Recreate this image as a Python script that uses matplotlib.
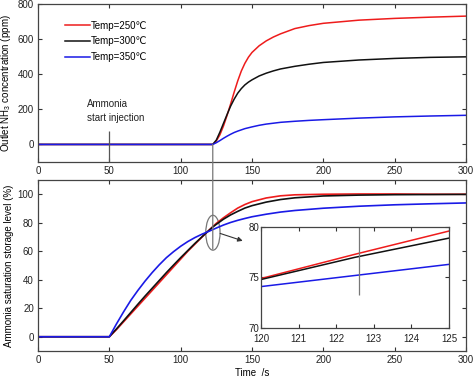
import numpy as np
import matplotlib
matplotlib.use('Agg')
import matplotlib.pyplot as plt
from matplotlib.patches import Ellipse, ConnectionPatch

plt.rcParams['font.family'] = ['Liberation Sans', 'DejaVu Sans']
plt.rcParams['font.size'] = 7
plt.rcParams['mathtext.fontset'] = 'custom'
plt.rcParams['mathtext.rm'] = 'Liberation Sans'

# outlet NH3 concentration (ppm)
t_top = [0, 122.5, 125, 127.5, 130, 132.5, 135, 137.5, 140, 142.5, 145, 147.5,
         150, 155, 160, 165, 170, 180, 190, 200, 225, 250, 275, 300]
nh3_250 = [0, 0, 20, 55, 105, 165, 230, 298, 362, 418, 462, 497,
           524, 562, 590, 612, 630, 660, 677, 690, 708, 718, 725, 731]
nh3_300 = [0, 0, 25, 70, 120, 170, 218, 258, 292, 318, 339, 355,
           368, 390, 406, 419, 430, 445, 457, 467, 481, 490, 496, 499]
nh3_350 = [0, 0, 10, 22, 35, 47, 58, 68, 76, 83, 90, 95,
           100, 109, 116, 121, 126, 132, 137, 141, 150, 157, 162, 166]

# ammonia saturation storage level (%)
t_bot = [0, 50, 55, 60, 65, 70, 75, 80, 85, 90, 95, 100, 105, 110, 115, 120, 122.5,
         125, 130, 135, 140, 145, 150, 160, 170, 180, 200, 225, 250, 275, 300]
sat_250 = [0, 0, 5, 10.5, 16, 21.5, 27, 32.5, 38, 43.5, 49, 54.5, 60, 65, 70, 74.9, 77.3,
           79.6, 83.5, 87, 90.3, 92.8, 94.8, 97.4, 98.9, 99.6, 100, 100.2, 100.2, 100, 100]
sat_300 = [0, 0, 5.5, 11.2, 17, 22.8, 28.5, 34, 39.5, 45, 50.3, 55.5, 60.5, 65.5, 70.2, 74.8, 77.0,
           78.9, 82.5, 85.5, 88, 90.3, 92, 94.5, 96.3, 97.5, 98.8, 99.4, 99.7, 99.8, 99.9]
sat_350 = [0, 0, 9, 17.5, 25.5, 32.5, 39, 45, 50.5, 55.5, 59.7, 63.5, 66.8, 69.6, 72, 74.1, 75.2,
           76.3, 78.4, 80.2, 81.7, 83, 84.2, 86, 87.5, 88.6, 90.2, 91.6, 92.6, 93.3, 93.9]

labels = ['Temp=250\u2103', 'Temp=300\u2103', 'Temp=350\u2103']
colors = ['#ee1c1c', '#111111', '#1a1ae6']

W, H = 474, 379
fig = plt.figure(figsize=(W / 100, H / 100), dpi=100)

def box(l, t, r, b):
    return [l / W, 1 - b / H, (r - l) / W, (b - t) / H]

def style(ax):
    ax.tick_params(direction='in', top=True, right=True, length=3, width=0.8,
                   colors='#333333', labelcolor='#222222', pad=3)
    for s in ax.spines.values():
        s.set_color('#444444')
        s.set_linewidth(0.9)

ax1 = fig.add_axes(box(38, 4, 466, 162))
ax2 = fig.add_axes(box(38, 180, 466, 351))
ax3 = fig.add_axes(box(261, 227, 449, 328))

for ys, c, lab in zip([nh3_250, nh3_300, nh3_350], colors, labels):
    ax1.plot(t_top, ys, color=c, lw=1.1, label=lab)
for ys, c in zip([sat_250, sat_300, sat_350], colors):
    ax2.plot(t_bot, ys, color=c, lw=1.2)
    ax3.plot(t_bot, ys, color=c, lw=1.1)

ax1.set_xlim(0, 300)
ax1.set_ylim(-100, 800)
ax1.set_xticks([0, 50, 100, 150, 200, 250, 300])
ax1.set_yticks([0, 200, 400, 600, 800])
ax1.set_ylabel('Outlet NH$_3$ concentration (ppm)', labelpad=3)
ax1.vlines(50, -100, 74, color='#555555', lw=0.9)
ax1.text(34.5, 189, 'Ammonia\nstart injection', va='center', ha='left',
         linespacing=1.45, color='#222222')
ax1.legend(loc='upper left', bbox_to_anchor=(0.063, 0.895), frameon=False,
           handlelength=2.6, handletextpad=0.1, labelspacing=0.6,
           borderpad=0, borderaxespad=0)

ax2.set_xlim(0, 300)
ax2.set_ylim(-10, 110)
ax2.set_xticks([0, 50, 100, 150, 200, 250, 300])
ax2.set_yticks([0, 20, 40, 60, 80, 100])
ax2.set_ylabel('Ammonia saturation storage level (%)', labelpad=3)
ax2.set_xlabel('Time  /s', labelpad=2)

ax3.set_xlim(120, 125)
ax3.set_ylim(70, 80)
ax3.set_xticks([120, 121, 122, 123, 124, 125])
ax3.set_yticks([70, 75, 80])
ax3.vlines(122.6, 73.3, 80, color='#777777', lw=0.9)

for ax in (ax1, ax2, ax3):
    style(ax)
ax3.tick_params(axis='x', pad=4.5)
ax3.tick_params(axis='y', pad=1.5)

# marker line across both panels
con = ConnectionPatch(xyA=(122.5, 0), coordsA=ax1.transData,
                      xyB=(122.5, 61.5), coordsB=ax2.transData,
                      color='#777777', lw=0.9)
fig.add_artist(con)

ax2.add_patch(Ellipse((122.6, 73), 10, 24.5, fill=False, ec='#777777', lw=0.9))
ax2.annotate('', xy=(143.5, 67.3), xytext=(127.7, 72.5),
             arrowprops=dict(arrowstyle='-|>', color='#333333', lw=0.8,
                             mutation_scale=7, shrinkA=0, shrinkB=0))

fig.savefig('out.png', dpi=100)
